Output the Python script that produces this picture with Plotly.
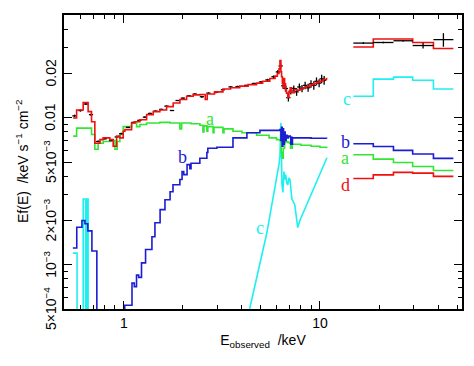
import numpy as np
import plotly.graph_objects as go

# ---------------- data (keV, keV^2 ... Ef(E) units) ----------------
# total model (red) - main band
red_E = [0.551, 0.574, 0.620, 0.657, 0.684, 0.711, 0.755, 0.784, 0.848, 0.882,
         0.918, 0.954, 0.992, 1.012, 1.095, 1.138, 1.207, 1.306, 1.411, 1.526,
         1.651, 1.784, 1.931, 2.089, 2.257, 2.442, 2.60, 2.66, 2.9, 3.2,
         3.5, 3.9, 4.3, 4.75, 5.1, 5.55, 5.9, 6.06, 6.18, 6.25,
         6.32, 6.37, 6.43, 6.49, 6.55, 6.6, 6.67, 6.75, 6.85, 6.95,
         7.05, 7.17, 7.4, 7.61, 7.9, 8.2, 8.5, 8.9, 9.3, 9.6,
         10.0, 10.4, 10.8]
red_F = [0.00995, 0.0113, 0.0127, 0.0110, 0.0094, 0.0067, 0.0071, 0.0073, 0.0071, 0.0064,
         0.0075, 0.0073, 0.0081, 0.0083, 0.0092, 0.0094, 0.0097, 0.0105, 0.0110, 0.0113,
         0.0119, 0.0126, 0.0133, 0.0140, 0.0143, 0.0144, 0.0133, 0.0145, 0.0150, 0.0157,
         0.0160, 0.0164, 0.0168, 0.0172, 0.0177, 0.0185, 0.0192, 0.0200, 0.0215, 0.0245,
         0.0205, 0.0190, 0.0172, 0.0160, 0.0185, 0.0170, 0.0152, 0.0147, 0.0138, 0.0150,
         0.0160, 0.0148, 0.0155, 0.0154, 0.0157, 0.0160, 0.0163, 0.0168, 0.0171, 0.0174,
         0.0178, 0.0182, 0.0187]

# component a (green)
green_E = [0.551, 0.574, 0.684, 0.711, 0.739, 0.784, 0.848, 0.900, 0.924, 0.954,
           0.992, 1.095, 1.161, 1.207, 1.306, 1.526, 1.717, 1.93, 1.97, 2.2,
           2.442, 2.53, 2.56, 2.65, 2.68, 2.85, 2.88, 3.2, 3.24, 3.6,
           4.0, 4.75, 5.5, 6.0, 6.25, 6.35, 6.42, 6.5, 6.6, 6.7,
           6.85, 7.0, 7.08, 7.12, 7.18, 7.22, 8.0, 9.0, 10.0, 10.8]
green_F = [0.0075, 0.0085, 0.0077, 0.0061, 0.0067, 0.0069, 0.0070, 0.0061, 0.0069, 0.0077,
           0.0087, 0.0092, 0.0087, 0.0090, 0.0092, 0.0093, 0.0092, 0.0084, 0.0092, 0.0091,
           0.0089, 0.0080, 0.0088, 0.0081, 0.0087, 0.0079, 0.0086, 0.0079, 0.0084, 0.0081,
           0.0079, 0.0076, 0.0073, 0.0071, 0.0070, 0.0058, 0.0053, 0.0062, 0.0068, 0.0069,
           0.0068, 0.0067, 0.0062, 0.0067, 0.0062, 0.0066, 0.0065, 0.0064, 0.0063, 0.0062]

# component b (blue): soft part and hard part
blue_soft_E = [0.549, 0.575, 0.611, 0.633, 0.655, 0.687, 0.728]
blue_soft_F = [1.3e-3, 1.8e-3, 2.0e-3, 1.9e-3, 1.7e-3, 1.24e-3, 1e-6]
blue_E = [1.0, 1.01, 1.10, 1.13, 1.16, 1.19, 1.23, 1.29, 1.39, 1.44,
          1.53, 1.62, 1.72, 1.78, 1.93, 1.98, 2.02, 2.10, 2.17, 2.20,
          2.44, 2.65, 2.68, 2.98, 3.60, 4.24, 4.94, 6.25, 6.32, 6.37,
          6.42, 6.47, 6.52, 6.58, 6.65, 6.72, 6.8, 6.9, 7.05, 7.1,
          7.14, 7.2, 7.24, 8.0, 9.0, 10.8]
blue_F = [1e-6, 5.3e-4, 7.5e-4, 7.1e-4, 8.5e-4, 8.2e-4, 1.03e-3, 1.27e-3, 1.55e-3, 1.93e-3,
          2.37e-3, 2.77e-3, 3.14e-3, 3.5e-3, 3.8e-3, 4.3e-3, 4.1e-3, 4.8e-3, 4.5e-3, 4.9e-3,
          5.3e-3, 5.8e-3, 6.2e-3, 6.3e-3, 7.3e-3, 7.9e-3, 8.2e-3, 8.3e-3, 7.0e-3, 8.6e-3,
          6.4e-3, 8.4e-3, 6.6e-3, 8.0e-3, 7.0e-3, 7.6e-3, 7.3e-3, 7.5e-3, 7.4e-3, 6.6e-3,
          7.35e-3, 6.6e-3, 7.3e-3, 7.3e-3, 7.25e-3, 7.2e-3]

# component c (cyan): soft part (steps) and hard part (line)
cyan_soft_E = [0.549, 0.577, 0.620, 0.638, 0.645, 0.657, 0.70]
cyan_soft_F = [1.2e-3, 1e-6, 2.8e-3, 1e-6, 2.8e-3, 1e-6, 1e-6]
cyan_E = [4.30, 5.36, 6.19, 6.25, 6.32, 6.40, 6.47, 6.55, 6.62, 6.69,
          6.77, 6.85, 6.95, 7.03, 7.19, 7.44, 7.7, 7.9, 10.85]
cyan_F = [4.5e-4, 1.65e-3, 4.9e-3, 5.5e-3, 9.25e-3, 3.5e-3, 3.1e-3, 4.3e-3, 3.8e-3, 4.1e-3,
          3.6e-3, 3.5e-3, 3.9e-3, 3.8e-3, 2.8e-3, 2.56e-3, 1.79e-3, 2.0e-3, 5.34e-3]

# observed data (black) - main band
black_E = [0.56, 0.60, 0.64, 0.68, 0.74, 0.80, 0.86, 0.92, 0.97, 1.05,
           1.12, 1.20, 1.28, 1.36, 1.45, 1.55, 1.65, 1.76, 1.88, 2.0,
           2.15, 2.3, 2.5, 2.7, 2.95, 3.2, 3.5, 3.8, 4.2, 4.6,
           5.0, 5.4, 5.8, 6.1, 6.3, 6.5, 6.7, 6.9, 7.1, 7.35,
           7.6, 7.85, 8.1, 8.4, 8.7, 9.0, 9.3, 9.6, 9.9, 10.2, 10.5]
black_F = [0.0103, 0.0112, 0.0124, 0.0105, 0.0069, 0.0072, 0.0070, 0.0074, 0.0078, 0.0086,
           0.0093, 0.0096, 0.0101, 0.0107, 0.0111, 0.0114, 0.0120, 0.0112, 0.0131, 0.0136,
           0.0141, 0.0145, 0.0139, 0.0147, 0.0149, 0.0155, 0.0162, 0.0163, 0.0166, 0.0171,
           0.0175, 0.0181, 0.0190, 0.0205, 0.0225, 0.0165, 0.0158, 0.0137, 0.0152, 0.0158,
           0.0150, 0.0162, 0.0158, 0.0166, 0.0160, 0.0170, 0.0166, 0.0177, 0.0172, 0.0184, 0.0180]
black_dF = [0.0002, 0.0002, 0.0002, 0.0002, 0.0001, 0.0001, 0.0001, 0.0001, 0.0001, 0.0001,
            0.0001, 0.0001, 0.0001, 0.0001, 0.0001, 0.0001, 0.0001, 0.0001, 0.0001, 0.0001,
            0.0001, 0.0001, 0.0002, 0.0002, 0.0002, 0.0002, 0.0002, 0.0002, 0.0002, 0.0002,
            0.0003, 0.0003, 0.0004, 0.0006, 0.0008, 0.0008, 0.0008, 0.0008, 0.0008, 0.0008,
            0.0009, 0.0009, 0.0009, 0.0010, 0.0010, 0.0010, 0.0011, 0.0011, 0.0011, 0.0012, 0.0012]

# hard X-ray band (step bins)
bat_edges = [14.8, 18.7, 23.7, 29.7, 37.9, 47.9]
bat_total = [0.0303, 0.0343, 0.0343, 0.0325, 0.0296]
bat_c = [0.0140, 0.0183, 0.0189, 0.0180, 0.0157]
bat_b = [6.65e-3, 6.38e-3, 6.0e-3, 5.67e-3, 5.29e-3]
bat_a = [5.6e-3, 5.23e-3, 4.96e-3, 4.66e-3, 4.38e-3]
bat_d = [3.86e-3, 4.09e-3, 4.25e-3, 4.2e-3, 3.99e-3]
bat_data = [0.0322, 0.0325, 0.0334, 0.0310, 0.0340]
bat_data_err = [0.0004, 0.0004, 0.0004, 0.0014, 0.0036]

x_ticks = [1, 10]
x_ticktext = ["1", "10"]
y_ticks = [5e-4, 1e-3, 2e-3, 5e-3, 0.01, 0.02]
y_ticktext = ["5×10<sup>−4</sup>", "10<sup>−3</sup>", "2×10<sup>−3</sup>",
              "5×10<sup>−3</sup>", "0.01", "0.02"]

# ---------------- style ----------------
RED = "#f01010"
GREEN = "#33e633"
BLUE = "#1c1cd2"
CYAN = "#1ef0f0"
BLACK = "#000000"
LW = 1.6
SANS = "Liberation Sans, Arial, sans-serif"

fig = go.Figure()


def step(x, y, color, width=LW):
    fig.add_trace(go.Scatter(x=x, y=y, mode="lines", line=dict(color=color, width=width, shape="hv"),
                             hoverinfo="skip", showlegend=False))


def bins(edges, vals, color):
    step(edges, list(vals) + [vals[-1]], color)


# main band
step(cyan_soft_E, cyan_soft_F, CYAN)
fig.add_trace(go.Scatter(x=cyan_E, y=cyan_F, mode="lines", line=dict(color=CYAN, width=LW),
                         hoverinfo="skip", showlegend=False))
step(green_E, green_F, GREEN)
step(blue_soft_E, blue_soft_F, BLUE)
step(blue_E, blue_F, BLUE)
fig.add_trace(go.Scatter(x=black_E, y=black_F, mode="markers",
                         marker=dict(size=1, color=BLACK),
                         error_y=dict(type="data", array=black_dF, color=BLACK, thickness=1.3, width=0),
                         error_x=dict(type="percent", value=2.5, color=BLACK, thickness=1.3, width=0),
                         hoverinfo="skip", showlegend=False))
step(red_E, red_F, RED)

# hard band
bins(bat_edges, bat_c, CYAN)
bins(bat_edges, bat_b, BLUE)
bins(bat_edges, bat_a, GREEN)
bins(bat_edges, bat_d, RED)
bins(bat_edges, bat_total, RED)
centers = [np.sqrt(bat_edges[i] * bat_edges[i + 1]) for i in range(len(bat_data))]
fig.add_trace(go.Scatter(x=centers, y=bat_data, mode="markers",
                         marker=dict(size=1, color=BLACK),
                         error_y=dict(type="data", array=bat_data_err, color=BLACK, thickness=1.3, width=0),
                         error_x=dict(type="data",
                                      array=[bat_edges[i + 1] - c for i, c in enumerate(centers)],
                                      arrayminus=[c - bat_edges[i] for i, c in enumerate(centers)],
                                      color=BLACK, thickness=1.3, width=0),
                         hoverinfo="skip", showlegend=False))

# component labels
labels = [
    ("a", 0.439, -2.007, GREEN), ("b", 0.301, -2.265, BLUE), ("c", 0.694, -2.748, CYAN),
    ("c", 1.138, -1.871, CYAN), ("b", 1.128, -2.165, BLUE), ("a", 1.128, -2.275, GREEN),
    ("d", 1.128, -2.456, RED),
]
for t, lx, ly, col in labels:
    fig.add_annotation(x=lx, y=ly, xref="x", yref="y", text=t, showarrow=False,
                       font=dict(family="Liberation Serif, Times New Roman, serif", size=18, color=col),
                       xanchor="center", yanchor="middle")

# rotated y tick labels (placed beside the axis, reading bottom-to-top)
for v, txt in zip(y_ticks, y_ticktext):
    fig.add_annotation(x=0, xref="paper", xshift=-14, y=np.log10(v), yref="y",
                       text=txt, textangle=-90, showarrow=False,
                       xanchor="center", yanchor="middle",
                       font=dict(family=SANS, size=14, color="black"))
# y-axis title
fig.add_annotation(x=0, xref="paper", xshift=-42, y=0.5, yref="paper",
                   text="Ef(E)  /keV s<sup>−1</sup> cm<sup>−2</sup>", textangle=-90, showarrow=False,
                   xanchor="center", yanchor="middle",
                   font=dict(family=SANS, size=14, color="black"))

axis_common = dict(
    showline=True, linecolor="black", linewidth=1.6, mirror="allticks",
    ticks="inside", ticklen=8, tickwidth=1.3, tickcolor="black",
    showgrid=False, zeroline=False, automargin=False,
    tickfont=dict(family=SANS, size=14, color="black"),
)

x_minor = [0.6, 0.7, 0.8, 0.9, 2, 3, 4, 5, 6, 7, 8, 9, 20, 30, 40, 50]
y_minor = [6e-4, 7e-4, 8e-4, 9e-4, 3e-3, 4e-3, 6e-3, 7e-3, 8e-3, 9e-3, 0.03, 0.04]

fig.update_xaxes(type="log", range=[np.log10(0.495), np.log10(53)],
                 tickmode="array", tickvals=x_ticks, ticktext=x_ticktext,
                 minor=dict(tickmode="array", tickvals=x_minor, ticks="inside", ticklen=4,
                            tickwidth=1.2, tickcolor="black", showgrid=False),
                 title=dict(text="E<sub>observed</sub>  /keV", standoff=6,
                            font=dict(family=SANS, size=14, color="black")),
                 **axis_common)
fig.update_yaxes(type="log", range=[np.log10(5e-4), np.log10(0.05)],
                 tickmode="array", tickvals=y_ticks, showticklabels=False,
                 minor=dict(tickmode="array", tickvals=y_minor, ticks="inside", ticklen=4,
                            tickwidth=1.2, tickcolor="black", showgrid=False),
                 **axis_common)

# page body adds an 8px offset: size the figure so the plot lands where the reference has it
fig.update_layout(width=466, height=358, margin=dict(l=56, r=12, t=7, b=57),
                  plot_bgcolor="white", paper_bgcolor="white", showlegend=False)

fig.write_html("out.html")
